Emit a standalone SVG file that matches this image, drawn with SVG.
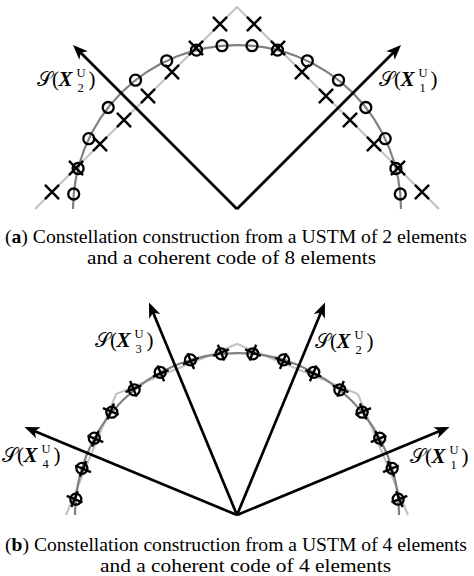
<svg xmlns="http://www.w3.org/2000/svg" xmlns:xlink="http://www.w3.org/1999/xlink" width="474" height="576" viewBox="0 0 474 576">
<style>
.arr{stroke:#000;stroke-width:2.7;fill:none;marker-end:url(#ah)}
.circ{fill:none;stroke:#000;stroke-width:2.3}
.cross{stroke:#000;stroke-width:2.4;fill:none}
.dk{fill:none;stroke:#808080;stroke-width:2.2}
.lt{fill:none;stroke:#c4c4c4;stroke-width:2.2}
text{font-family:"Liberation Serif","DejaVu Serif",serif;fill:#000}
.cap{font-size:19px}
.lbl{font-size:21px}
.scr{font-size:20px;font-family:"DejaVu Serif","DejaVu Sans","Noto Sans",serif}
.bx{font-weight:bold;font-style:italic}
.ss{font-size:12.5px}
</style>
<defs>
<marker id="ah" markerUnits="userSpaceOnUse" viewBox="-12 -8 18 16" markerWidth="18" markerHeight="16" refX="0" refY="0" orient="auto">
<path d="M4,0 L-11,-6 L-7,0 L-11,6 Z" fill="#000"/>
</marker>
<circle id="o" r="5.5" class="circ"/>
<path id="x" d="M-10,0H10M0,-10V10" class="cross"/>
<path id="xs" d="M-8.5,0H8.5M0,-8.5V8.5" class="cross"/>
</defs>

<g id="panel-a">
<g id="curves-a">
<path class="lt" d="M35,209 L237,7 L439,209"/>
<path class="dk" d="M73,209 A164,164 0 0 1 401,209"/>
</g>
<g id="crosses-a">
<use xlink:href="#x" transform="translate(220,24) rotate(-45)"/>
<use xlink:href="#x" transform="translate(196,48) rotate(-45)"/>
<use xlink:href="#x" transform="translate(172,72) rotate(-45)"/>
<use xlink:href="#x" transform="translate(148,96) rotate(-45)"/>
<use xlink:href="#x" transform="translate(124,120) rotate(-45)"/>
<use xlink:href="#x" transform="translate(100,144) rotate(-45)"/>
<use xlink:href="#x" transform="translate(76,168) rotate(-45)"/>
<use xlink:href="#x" transform="translate(52,192) rotate(-45)"/>
<use xlink:href="#x" transform="translate(254,24) rotate(-45)"/>
<use xlink:href="#x" transform="translate(278,48) rotate(-45)"/>
<use xlink:href="#x" transform="translate(302,72) rotate(-45)"/>
<use xlink:href="#x" transform="translate(326,96) rotate(-45)"/>
<use xlink:href="#x" transform="translate(350,120) rotate(-45)"/>
<use xlink:href="#x" transform="translate(374,144) rotate(-45)"/>
<use xlink:href="#x" transform="translate(398,168) rotate(-45)"/>
<use xlink:href="#x" transform="translate(422,192) rotate(-45)"/>
</g>
<g id="circles-a">
<use xlink:href="#o" x="222.0" y="45.7"/>
<use xlink:href="#o" x="196.5" y="50.1"/>
<use xlink:href="#o" x="166.7" y="60.8"/>
<use xlink:href="#o" x="135.5" y="80.2"/>
<use xlink:href="#o" x="108.2" y="107.5"/>
<use xlink:href="#o" x="88.8" y="138.7"/>
<use xlink:href="#o" x="78.1" y="168.5"/>
<use xlink:href="#o" x="73.7" y="194.0"/>
<use xlink:href="#o" x="252.0" y="45.7"/>
<use xlink:href="#o" x="277.5" y="50.1"/>
<use xlink:href="#o" x="307.3" y="60.8"/>
<use xlink:href="#o" x="338.5" y="80.2"/>
<use xlink:href="#o" x="365.8" y="107.5"/>
<use xlink:href="#o" x="385.2" y="138.7"/>
<use xlink:href="#o" x="395.9" y="168.5"/>
<use xlink:href="#o" x="400.3" y="194.0"/>
</g>
<g id="connectors-a">
<line class="arr" x1="237" y1="209" x2="75.8" y2="47.8"/>
<line class="arr" x1="237" y1="209" x2="398.2" y2="47.8"/>
</g>
<g id="label-a2" transform="translate(37,86)">
<text class="lbl" x="0" y="0"><tspan class="scr">𝒮</tspan><tspan x="15">(</tspan><tspan x="21.5" class="bx">X</tspan><tspan class="ss" x="39.5" y="-9">U</tspan><tspan class="ss" x="40.5" y="6">2</tspan><tspan x="51.5" y="0">)</tspan></text>
</g>
<g id="label-a1" transform="translate(379,86)">
<text class="lbl" x="0" y="0"><tspan class="scr">𝒮</tspan><tspan x="15">(</tspan><tspan x="21.5" class="bx">X</tspan><tspan class="ss" x="39.5" y="-9">U</tspan><tspan class="ss" x="40.5" y="6">1</tspan><tspan x="51.5" y="0">)</tspan></text>
</g>
<g id="caption-a">
<text class="cap" x="5" y="243" textLength="462" lengthAdjust="spacingAndGlyphs">(<tspan font-weight="bold">a</tspan>) Constellation construction from a USTM of 2 elements</text>
<text class="cap" x="87" y="264" textLength="289" lengthAdjust="spacingAndGlyphs">and a coherent code of 8 elements</text>
</g>
</g>

<g id="panel-b">
<g id="curves-b">
<path class="lt" d="M66,515 L116.1,394.1 L237,344 L357.9,394.1 L408,515"/>
<path class="dk" d="M75,515 A162,162 0 0 1 399,515"/>
</g>
<g id="crosses-b">
<use xlink:href="#xs" transform="translate(399.4,499.1) rotate(-22.5)"/>
<use xlink:href="#xs" transform="translate(390.9,468.8) rotate(-22.5)"/>
<use xlink:href="#xs" transform="translate(378.6,438.8) rotate(-22.5)"/>
<use xlink:href="#xs" transform="translate(363.2,411.4) rotate(-22.5)"/>
<use xlink:href="#xs" transform="translate(340.6,388.8) rotate(22.5)"/>
<use xlink:href="#xs" transform="translate(313.2,373.4) rotate(22.5)"/>
<use xlink:href="#xs" transform="translate(283.2,361.1) rotate(22.5)"/>
<use xlink:href="#xs" transform="translate(252.9,352.6) rotate(22.5)"/>
<use xlink:href="#xs" transform="translate(133.4,388.8) rotate(-22.5)"/>
<use xlink:href="#xs" transform="translate(160.8,373.4) rotate(-22.5)"/>
<use xlink:href="#xs" transform="translate(190.8,361.1) rotate(-22.5)"/>
<use xlink:href="#xs" transform="translate(221.1,352.6) rotate(-22.5)"/>
<use xlink:href="#xs" transform="translate(74.6,499.1) rotate(22.5)"/>
<use xlink:href="#xs" transform="translate(83.1,468.8) rotate(22.5)"/>
<use xlink:href="#xs" transform="translate(95.4,438.8) rotate(22.5)"/>
<use xlink:href="#xs" transform="translate(110.8,411.4) rotate(22.5)"/>
</g>
<g id="circles-b">
<use xlink:href="#o" x="398.2" y="499.2"/>
<use xlink:href="#o" x="392.1" y="468.4"/>
<use xlink:href="#o" x="379.7" y="438.2"/>
<use xlink:href="#o" x="362.2" y="412.2"/>
<use xlink:href="#o" x="339.8" y="389.8"/>
<use xlink:href="#o" x="313.8" y="372.3"/>
<use xlink:href="#o" x="283.6" y="359.9"/>
<use xlink:href="#o" x="252.8" y="353.8"/>
<use xlink:href="#o" x="134.2" y="389.8"/>
<use xlink:href="#o" x="160.2" y="372.3"/>
<use xlink:href="#o" x="190.4" y="359.9"/>
<use xlink:href="#o" x="221.2" y="353.8"/>
<use xlink:href="#o" x="75.8" y="499.2"/>
<use xlink:href="#o" x="81.9" y="468.4"/>
<use xlink:href="#o" x="94.3" y="438.2"/>
<use xlink:href="#o" x="111.8" y="412.2"/>
</g>
<g id="connectors-b">
<line class="arr" x1="237" y1="515" x2="445.8" y2="428.5"/>
<line class="arr" x1="237" y1="515" x2="323.5" y2="306.2"/>
<line class="arr" x1="237" y1="515" x2="150.5" y2="306.2"/>
<line class="arr" x1="237" y1="515" x2="28.2" y2="428.5"/>
</g>
<g id="label-b3" transform="translate(95,347)">
<text class="lbl" x="0" y="0"><tspan class="scr">𝒮</tspan><tspan x="15">(</tspan><tspan x="21.5" class="bx">X</tspan><tspan class="ss" x="39.5" y="-9">U</tspan><tspan class="ss" x="40.5" y="6">3</tspan><tspan x="51.5" y="0">)</tspan></text>
</g>
<g id="label-b2" transform="translate(315,348)">
<text class="lbl" x="0" y="0"><tspan class="scr">𝒮</tspan><tspan x="15">(</tspan><tspan x="21.5" class="bx">X</tspan><tspan class="ss" x="39.5" y="-9">U</tspan><tspan class="ss" x="40.5" y="6">2</tspan><tspan x="51.5" y="0">)</tspan></text>
</g>
<g id="label-b4" transform="translate(2,462)">
<text class="lbl" x="0" y="0"><tspan class="scr">𝒮</tspan><tspan x="15">(</tspan><tspan x="21.5" class="bx">X</tspan><tspan class="ss" x="39.5" y="-9">U</tspan><tspan class="ss" x="40.5" y="6">4</tspan><tspan x="51.5" y="0">)</tspan></text>
</g>
<g id="label-b1" transform="translate(410,463)">
<text class="lbl" x="0" y="0"><tspan class="scr">𝒮</tspan><tspan x="15">(</tspan><tspan x="21.5" class="bx">X</tspan><tspan class="ss" x="39.5" y="-9">U</tspan><tspan class="ss" x="40.5" y="6">1</tspan><tspan x="51.5" y="0">)</tspan></text>
</g>
<g id="caption-b">
<text class="cap" x="5" y="551" textLength="462" lengthAdjust="spacingAndGlyphs">(<tspan font-weight="bold">b</tspan>) Constellation construction from a USTM of 4 elements</text>
<text class="cap" x="100" y="572" textLength="291" lengthAdjust="spacingAndGlyphs">and a coherent code of 4 elements</text>
</g>
</g>
</svg>
